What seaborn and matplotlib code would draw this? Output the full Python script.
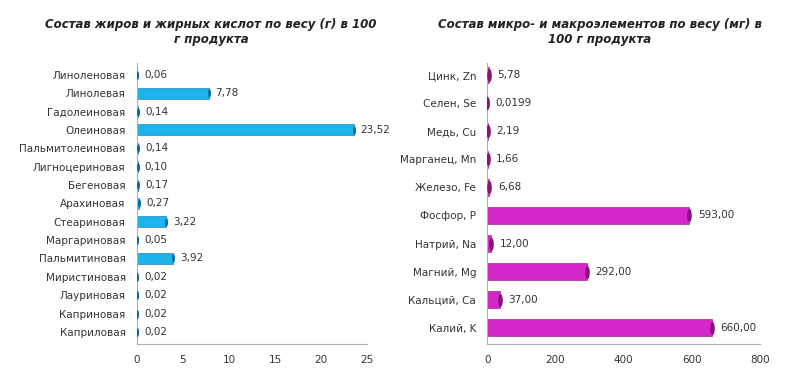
import numpy as np
import matplotlib
matplotlib.use("Agg")
import matplotlib.pyplot as plt
import seaborn as sns
from matplotlib.path import Path

fat_names = ['Линоленовая', 'Линолевая', 'Гадолеиновая', 'Олеиновая', 'Пальмитолеиновая',
             'Лигноцериновая', 'Бегеновая', 'Арахиновая', 'Стеариновая', 'Маргариновая',
             'Пальмитиновая', 'Миристиновая', 'Лауриновая', 'Каприновая', 'Каприловая']
fat_values = [0.06, 7.78, 0.14, 23.52, 0.14, 0.10, 0.17, 0.27, 3.22, 0.05, 3.92, 0.02, 0.02, 0.02, 0.02]
fat_labels = ['0,06', '7,78', '0,14', '23,52', '0,14', '0,10', '0,17', '0,27', '3,22', '0,05',
              '3,92', '0,02', '0,02', '0,02', '0,02']

min_names = ['Цинк, Zn', 'Селен, Se', 'Медь, Cu', 'Марганец, Mn', 'Железо, Fe',
             'Фосфор, P', 'Натрий, Na', 'Магний, Mg', 'Кальций, Ca', 'Калий, K']
min_values = [5.78, 0.0199, 2.19, 1.66, 6.68, 593.00, 12.00, 292.00, 37.00, 660.00]
min_labels = ['5,78', '0,0199', '2,19', '1,66', '6,68', '593,00', '12,00', '292,00', '37,00', '660,00']

sns.set_style("white")
plt.rcParams['font.family'] = ['DejaVu Sans']

# ellipse marker for the cylinder caps
circ = Path.unit_circle()
cap = Path(circ.vertices * np.array([0.35, 1.0]), circ.codes)

fig = plt.figure(figsize=(8, 3.77), dpi=100)
ax1 = fig.add_axes([0.171, 0.088, 0.288, 0.745])
ax2 = fig.add_axes([0.609, 0.088, 0.341, 0.745])


def draw(ax, names, values, labels, color, dark, xmax, ticks, capsize, pad, yedge):
    sns.barplot(x=values, y=names, orient='h', color=color, width=0.6,
                saturation=1, ax=ax, edgecolor=dark, linewidth=0.4)
    ax.scatter(values, range(len(names)), marker=cap, s=capsize, color=dark,
               zorder=3, linewidths=0)
    ax.scatter([0] * len(names), range(len(names)), marker=cap, s=capsize, color=color,
               zorder=2, linewidths=0)
    for i, (v, lab) in enumerate(zip(values, labels)):
        ax.annotate(lab, (v, i), xytext=(pad, 0), textcoords='offset points',
                    va='center', ha='left', fontsize=7.5, color='#333333')
    ax.set_xlim(0, xmax)
    ax.set_xticks(ticks)
    ax.set_ylim(len(names) - 1 + yedge[0], -yedge[1])
    ax.tick_params(axis='both', length=0, labelsize=7.5, colors='#333333', pad=8)
    ax.set_xlabel('')
    ax.set_ylabel('')
    for s in ['top', 'right']:
        ax.spines[s].set_visible(False)
    for s in ['left', 'bottom']:
        ax.spines[s].set_color('#b0b0b0')
        ax.spines[s].set_linewidth(0.8)


draw(ax1, fat_names, fat_values, fat_labels, '#1cb4ec', '#0b6fa0', 25, [0, 5, 10, 15, 20, 25],
     40, 5, (0.65, 0.65))
draw(ax2, min_names, min_values, min_labels, '#d427c8', '#8a1080', 800, [0, 200, 400, 600, 800],
     90, 6, (0.57, 0.43))

fig.text(211 / 800, 1 - 32 / 377, 'Состав жиров и жирных кислот по весу (г) в 100\nг продукта',
         ha='center', va='center', fontsize=8.5, fontweight='bold', style='italic', color='#222222')
fig.text(600 / 800, 1 - 32 / 377, 'Состав микро- и макроэлементов по весу (мг) в\n100 г продукта',
         ha='center', va='center', fontsize=8.5, fontweight='bold', style='italic', color='#222222')

fig.savefig('out.png', dpi=100)
